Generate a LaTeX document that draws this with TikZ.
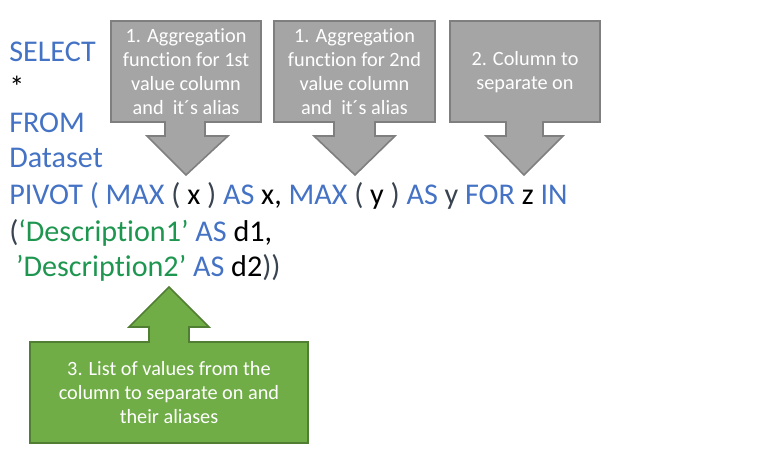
\documentclass[tikz,border=0pt]{standalone}
\usepackage{fontspec}
\setmainfont{Carlito}[Ligatures=NoCommon]
\definecolor{kw}{HTML}{4472C4}
\definecolor{str}{HTML}{1E9650}
\definecolor{par}{HTML}{3A4350}
\definecolor{gfill}{HTML}{A5A5A5}
\definecolor{gline}{HTML}{7F7F7F}
\definecolor{grfill}{HTML}{70AD47}
\definecolor{grline}{HTML}{507E32}
\newcommand{\kw}[1]{\textcolor{kw}{#1}}
\newcommand{\st}[1]{\textcolor{str}{#1}}
\newcommand{\pa}[1]{\textcolor{par}{#1}}
\begin{document}
\begin{tikzpicture}[x=0.75pt,y=-0.75pt,
  code/.style={anchor=base west, inner sep=0pt, font=\fontsize{22.6}{27}\selectfont},
  greycall/.style={fill=gfill, draw=gline, line width=1.2pt},
  greencall/.style={fill=grfill, draw=grline, line width=1.2pt},
  calltext/.style={align=center, text=white, inner sep=0pt, font=\fontsize{15.2}{18}\selectfont}]
\useasboundingbox (0,0) rectangle (769,459);
% callouts
\draw[greycall] (111,21) -- (261,21) -- (261,122) -- (205,122) -- (205,136) -- (228,136) -- (186,175) -- (147,136) -- (165,136) -- (165,122) -- (111,122) -- cycle;
\draw[greycall] (274,21) -- (435,21) -- (435,122) -- (375,122) -- (375,136) -- (395,136) -- (355,175) -- (314,136) -- (334,136) -- (334,122) -- (274,122) -- cycle;
\draw[greycall] (450,21) -- (600,21) -- (600,122) -- (543,122) -- (543,136) -- (563,136) -- (524,175) -- (486,136) -- (506,136) -- (506,122) -- (450,122) -- cycle;
\draw[greencall] (30,342) -- (149,342) -- (149,327) -- (129,327) -- (169,287) -- (209,327) -- (189,327) -- (189,342) -- (308,342) -- (308,443) -- (30,443) -- cycle;
\node[calltext] (c1) at (186,72) {1. Aggregation\\function for 1st\\value column\\and\ \ it´s alias};
\node[calltext] (c2) at (354.5,72) {1. Aggregation\\function for 2nd\\value column\\and\ \ it´s alias};
\node[calltext] (c3) at (525,72) {2. Column to\\separate on};
\node[calltext] (c4) at (169,393) {3. List of values from the\\column to separate on and\\their aliases};
% code
\node[code] (l1) at (9,62) {\kw{SELECT}};
\node[code] (l2) at (9,98) {*};
\node[code] (l3) at (9,133) {\kw{FROM}};
\node[code] (l4) at (9,168) {\kw{Dataset}};
\node[code] (l5) at (9,205) {\kw{PIVOT ( MAX} \pa{(} x \pa{)} \kw{AS} x, \kw{MAX} \pa{(} y \pa{)} \kw{AS} \pa{y} \kw{FOR} z \kw{IN}};
\node[code] (l6) at (9,242) {\pa{(}\st{‘Description1’} \kw{AS} d1,};
\node[code] (l7) at (9,277) {\ \st{’Description2’} \kw{AS} d2\pa{))}};
\end{tikzpicture}
\end{document}
